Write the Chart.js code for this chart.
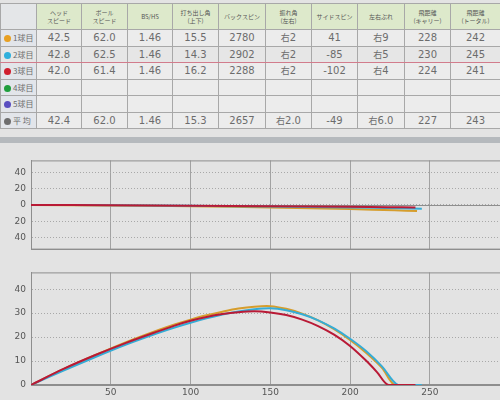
<!DOCTYPE html>
<html>
<head>
<meta charset="utf-8">
<script src="https://cdn.jsdelivr.net/npm/chart.js@4"></script>
<style>
  body { margin: 0; width: 500px; height: 400px; overflow: hidden; background: #e3e3e3;
         font-family: "Noto Sans CJK JP", "Noto Sans", sans-serif; }
  #tbl { position: absolute; left: 0; top: 3px; width: 500px; border-collapse: collapse; table-layout: fixed; }
  #tbl td, #tbl th { border: 1px solid #a8a8a8; color: #6c6c6c; text-align: center; padding: 0; overflow: hidden; white-space: nowrap; }
  #tbl th { background: #dde9cb; font-size: 6px; font-weight: normal; line-height: 8px; height: 25px; color: #555; }
  #tbl th.blank { background: #e4e6e8; }
  #tbl td { height: 15.5px; font-size: 10px; background: #ececec; font-family: "DejaVu Sans", sans-serif; }
  #tbl td.lbl { background: #e2e5ea; font-size: 8px; text-align: left; padding-left: 3px; font-family: "Noto Sans CJK JP", sans-serif; }
  #tbl td.lbl span { display: inline-block; width: 7px; height: 7px; border-radius: 50%; vertical-align: -1px; margin-right: 2px; }
  #tbl td .k { font-family: "Noto Sans CJK JP", sans-serif; font-size: 9px; }
  #tbl tr.sel td { border-top: 1px solid #d27c8c; border-bottom: 1px solid #d27c8c; background: #e6e6e6; }
  #bar { position: absolute; left: 0; top: 137px; width: 500px; height: 6px; background: #b5b9bd; }
  #topWrap { position: absolute; left: 0; top: 150px; width: 500px; height: 110px; }
  #sideWrap { position: absolute; left: 0; top: 262px; width: 500px; height: 138px; }
</style>
</head>
<body>
<table id="tbl"></table>
<div id="bar"></div>
<div id="topWrap"><canvas id="topChart"></canvas></div>
<div id="sideWrap"><canvas id="sideChart"></canvas></div>
<script>
// table
const headers = ['', 'ヘッド<br>スピード', 'ボール<br>スピード', 'BS/HS', '打ち出し角<br>(上下)', 'バックスピン',
  '振れ角<br>(左右)', 'サイドスピン', '左右ぶれ', '飛距離<br>(キャリー)', '飛距離<br>(トータル)'];
const colWidths = [36, 45, 46, 45, 46, 47, 46, 46, 47, 46, 50];
const rowNames = ['1球目', '2球目', '3球目', '4球目', '5球目', '平 均'];
const rowDots = ['#e8a022', '#2fb0dc', '#d01f2e', '#1f9e3c', '#5a4fc0', '#6e6e6e'];
const shot1 = ['42.5', '62.0', '1.46', '15.5', '2780', '右2', '41', '右9', '228', '242'];
const shot2 = ['42.8', '62.5', '1.46', '14.3', '2902', '右2', '-85', '右5', '230', '245'];
const shot3 = ['42.0', '61.4', '1.46', '16.2', '2288', '右2', '-102', '右4', '224', '241'];
const shot4 = ['', '', '', '', '', '', '', '', '', ''];
const shot5 = ['', '', '', '', '', '', '', '', '', ''];
const average = ['42.4', '62.0', '1.46', '15.3', '2657', '右2.0', '-49', '右6.0', '227', '243'];
const rows = [shot1, shot2, shot3, shot4, shot5, average];

// side view: distance vs height
const side1X = [0, 20, 40, 60, 80, 90, 100, 110, 120, 130, 140, 150, 160, 170, 180, 190, 200, 210, 220, 228, 242];
const side1Y = [0, 6.5, 12.4, 18, 23, 25.3, 27.3, 29.1, 30.6, 31.9, 32.7, 32.9, 31.8, 29.8, 27, 23.3, 18.8, 13.5, 7.2, 0, 0];
const side2X = [0, 20, 40, 60, 80, 90, 100, 110, 120, 130, 140, 150, 160, 170, 180, 190, 200, 210, 220, 230, 245];
const side2Y = [0, 5.9, 11.6, 17, 21.8, 24, 26, 27.8, 29.4, 30.7, 31.6, 32, 31.2, 29.5, 27, 23.6, 19.3, 14.2, 7.8, 0, 0];
const side3X = [0, 20, 40, 60, 80, 90, 100, 110, 120, 130, 140, 150, 160, 170, 180, 190, 200, 210, 217, 224, 241];
const side3Y = [0, 6.6, 12.4, 17.7, 22.5, 24.8, 26.8, 28.4, 29.6, 30.4, 30.8, 30.3, 29.2, 27.3, 24.6, 21, 16.3, 10.2, 5.3, 0, 0];

// top view: distance vs left/right (right is negative)
const top1X = [0, 50, 100, 150, 200, 228, 242];
const top1Y = [0, -0.5, -1.5, -3, -5, -6.5, -7.5];
const top2X = [0, 50, 100, 150, 200, 230, 245];
const top2Y = [0, -0.3, -1, -2, -3, -4, -4.5];
const top3X = [0, 50, 100, 150, 200, 224, 241];
const top3Y = [0, -0.3, -0.8, -1.4, -2.2, -2.8, -3];

const topTicks = [-40, -20, 0, 20, 40];
const sideTicks = [0, 10, 20, 30, 40];
const distTicks = [50, 100, 150, 200, 250];

const tbl = document.getElementById('tbl');
let html = '<colgroup>' + colWidths.map(w => `<col style="width:${w}px">`).join('') + '</colgroup>';
html += '<tr>' + headers.map((h, i) => `<th class="${i === 0 ? 'blank' : ''}">${h}</th>`).join('') + '</tr>';
rows.forEach((r, i) => {
  html += `<tr class="${i === 1 ? 'sel' : ''}"><td class="lbl"><span style="background:${rowDots[i]}"></span>${rowNames[i]}</td>`;
  html += r.map(v => `<td>${v.replace('右', '<span class="k">右</span>')}</td>`).join('') + '</tr>';
});
tbl.innerHTML = html;

const colors = ['#d69d2c', '#35acd6', '#b91a36'];
const pts = (xs, ys) => xs.map((x, i) => ({ x: x, y: ys[i] }));

function makeDatasets(list) {
  return list.map(d => ({
    data: d.data,
    borderColor: d.color,
    borderWidth: 2,
    pointRadius: 0,
    showLine: true,
    tension: 0.3,
    fill: false
  }));
}

// solid box round the plot and a solid zero line
const frame = {
  id: 'frame',
  beforeDatasetsDraw(chart, args, opts) {
    const { ctx, chartArea: a, scales } = chart;
    ctx.save();
    ctx.strokeStyle = '#8e8e8e';
    ctx.lineWidth = 1;
    if (opts.zero) {
      const y = Math.round(scales.y.getPixelForValue(0)) + 0.5;
      ctx.beginPath();
      ctx.moveTo(a.left, y);
      ctx.lineTo(a.right, y);
      ctx.stroke();
    }
    ctx.strokeRect(a.left + 0.5, a.top + 0.5, a.right - a.left, a.bottom - a.top - 1);
    ctx.restore();
  }
};

const tickFont = { size: 9, family: 'DejaVu Sans' };

function baseOptions(yMin, yMax, yTicks, xHeight, showX, zero, yCb) {
  return {
    animation: false,
    responsive: true,
    maintainAspectRatio: false,
    layout: { padding: { top: 0, bottom: showX ? 0 : 3, left: 0, right: 0 } },
    plugins: { legend: { display: false }, tooltip: { enabled: false }, frame: { zero: zero } },
    scales: {
      x: {
        type: 'linear', min: 0, max: 294,
        afterBuildTicks: s => { s.ticks = distTicks.map(v => ({ value: v })); },
        afterFit: s => { s.height = xHeight; },
        ticks: { display: showX, color: '#555', font: tickFont, padding: 2 },
        grid: { color: '#a2a2a2', drawTicks: false },
        border: { color: '#8e8e8e' }
      },
      y: {
        min: yMin, max: yMax,
        afterBuildTicks: s => { s.ticks = yTicks.map(v => ({ value: v })); },
        afterFit: s => { s.width = 31; },
        ticks: { color: '#555', font: tickFont, padding: 5, callback: yCb },
        grid: { color: '#a8a8a8', drawTicks: false },
        border: { color: '#8e8e8e', dash: [1, 2] }
      }
    }
  };
}

new Chart(document.getElementById('topChart'), {
  type: 'scatter',
  data: {
    datasets: makeDatasets([
      { data: pts(top3X, top3Y), color: colors[2] },
      { data: pts(top2X, top2Y), color: colors[1] },
      { data: pts(top1X, top1Y), color: colors[0] }
    ])
  },
  options: baseOptions(-55, 55, topTicks, 0, false, true, v => Math.abs(v)),
  plugins: [frame]
});

new Chart(document.getElementById('sideChart'), {
  type: 'scatter',
  data: {
    datasets: makeDatasets([
      { data: pts(side3X, side3Y), color: colors[2] },
      { data: pts(side2X, side2Y), color: colors[1] },
      { data: pts(side1X, side1Y), color: colors[0] }
    ])
  },
  options: baseOptions(0, 47, sideTicks, 15, true, false, v => v),
  plugins: [frame]
});
</script>
</body>
</html>
